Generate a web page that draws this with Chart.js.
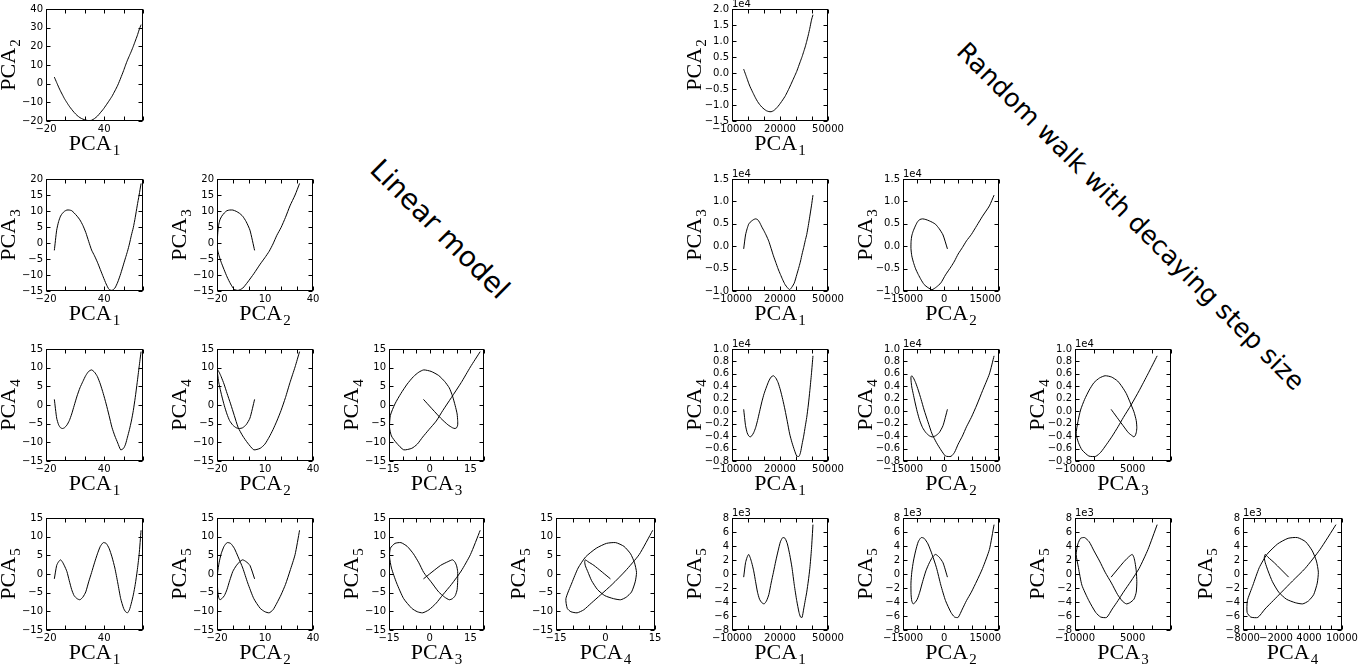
<!DOCTYPE html>
<html lang="en">
<head>
<meta charset="UTF-8">
<title>PCA projections of training trajectories</title>
<script src="https://cdn.jsdelivr.net/npm/chart.js"></script>
<style>
  body { margin: 0; background: #fff; }
  #fig { position: relative; width: 1358px; height: 666px; overflow: hidden; background: #fff; }
  #fig canvas { position: absolute; }
  .title {
    position: absolute;
    font-family: "DejaVu Sans", sans-serif;
    color: #000;
    white-space: nowrap;
    transform: translate(-50%, -50%) rotate(45deg);
  }
</style>
</head>
<body>
<div id="fig">
  <div class="title" style="left:440px; top:229px; font-size:28px;">Linear model</div>
  <div class="title" style="left:1131px; top:216px; font-size:25.5px;">Random walk with decaying step size</div>
</div>

<script>
    // trajectories projected on the first 5 principal components (same index = same step)
    const linPCA1 = [-11.4, -9, -7, -5, -3, -1, 1.5, 4, 6.5, 9, 12, 15, 18, 21, 24, 27, 30, 33, 36, 39,
                     42, 45, 48, 51, 54, 57, 60, 62, 64, 66, 68, 70, 72, 74, 76, 78];
    const linPCA2 = [3.5, 0.6, -1.8, -4, -6, -8, -10.1, -12.1, -13.8, -15.4, -17, -18.2, -19, -19.5, -19.8, -19.6, -18.7, -17.4, -15.6, -13.7,
                     -11.5, -9.2, -6.8, -3.9, -0.8, 3, 7, 9.9, 12.6, 15, 17.4, 20, 22.8, 25.6, 28.8, 31.6];
    const linPCA3 = [-2.3, 4, 6.7, 8.4, 9.3, 9.9, 10.3, 10.3, 10.1, 9.4, 8.4, 7.2, 5.5, 3.3, 0.5, -2.2, -4, -6, -8.3, -10.6,
                     -12.8, -14.5, -14.8, -14.1, -12.2, -9.6, -6.6, -4.6, -2.6, -0.3, 2.4, 4.8, 8, 11.6, 15, 18.6];
    const linPCA4 = [1.5, -3.5, -5.3, -6.1, -6.3, -6.1, -5.4, -4.2, -2.4, -0.2, 2.4, 4.6, 6.3, 7.9, 9, 9.4, 8.8, 7.6, 5.6, 3.1,
                     0.3, -2.8, -6, -8.3, -10.2, -12, -11.6, -10.5, -8.6, -6.6, -4.3, -1.5, 2, 6, 10.2, 14.3];
    const linPCA5 = [-1.3, 2.3, 3.3, 3.8, 3.2, 2.2, 0.7, -1.8, -4.2, -5.8, -6.6, -6.9, -6.2, -4.8, -2.1, 0.4, 3, 5.4, 7.4, 8.4,
                     8.2, 6.9, 4.6, 1.6, -2.4, -6.6, -9.2, -10.1, -10.4, -9.6, -7.8, -5.6, -2.8, 0.8, 5.2, 11.7];

    const rwPCA1 = [-2700, -1550, -550, 400, 1350, 2350, 3550, 4750, 5950, 7200, 8650, 10100, 11550, 13000, 14450, 15900, 17350, 18800, 20250, 21700,
                    23150, 24600, 26050, 27500, 28950, 30450, 31900, 32850, 33800, 34800, 35750, 36700, 37700, 38650, 39650, 40600];
    const rwPCA2 = [1200, -400, -1800, -3150, -4350, -5400, -6650, -7850, -8900, -9800, -10650, -11300, -11800, -12050, -12100, -11800, -11200, -10400, -9450, -8400,
                    -7300, -5900, -4400, -2800, -1200, 500, 2500, 3800, 5100, 6650, 8150, 9900, 11900, 14000, 16500, 18200];
    const rwPCA3 = [-600, 2500, 3900, 4900, 5350, 5650, 5950, 6100, 5950, 5350, 4300, 3350, 2300, 1100, -500, -2150, -3600, -5050, -6300, -7500,
                    -8550, -9250, -9700, -9100, -8200, -6400, -4600, -3300, -1750, -300, 1200, 2600, 4600, 6700, 9000, 11400];
    const rwPCA4 = [300, -2300, -3450, -3950, -4130, -3950, -3450, -2650, -1500, -100, 1500, 2850, 3900, 4850, 5500, 5700, 5350, 4600, 3400, 1900,
                    200, -1700, -3650, -5050, -6200, -7200, -7250, -6600, -5300, -4000, -2500, -1000, 1000, 3300, 6000, 8900];
    const rwPCA5 = [-450, 1600, 2400, 2800, 2350, 1600, 450, -1100, -2600, -3600, -4100, -4270, -3850, -2950, -1300, 250, 1850, 3300, 4600, 5200,
                    5100, 4300, 2800, 900, -1600, -3800, -5500, -6150, -6200, -5000, -3800, -2600, -1000, 800, 3500, 7050];

    // tick positions for each component axis
    const linTicks = [
        [-20, 0, 20, 40, 60, 80],
        [-20, -10, 0, 10, 20, 30, 40],
        [-15, -10, -5, 0, 5, 10, 15, 20],
        [-15, -10, -5, 0, 5, 10, 15],
        [-15, -10, -5, 0, 5, 10, 15]
    ];
    const rwTicks = [
        [-10000, 0, 10000, 20000, 30000, 40000, 50000],
        [-15000, -10000, -5000, 0, 5000, 10000, 15000, 20000],
        [-10000, -5000, 0, 5000, 10000, 15000],
        [-8000, -6000, -4000, -2000, 0, 2000, 4000, 6000, 8000, 10000],
        [-8000, -6000, -4000, -2000, 0, 2000, 4000, 6000, 8000]
    ];
    // exponent shown above the y axis ("1e4"), 0 = none
    const linExp = [0, 0, 0, 0, 0];
    const rwExp = [0, 4, 4, 4, 3];
    const componentNames = ['1', '2', '3', '4', '5'];

    const models = [
        { pcs: [linPCA1, linPCA2, linPCA3, linPCA4, linPCA5], ticks: linTicks, exp: linExp,
          colX: [46, 217, 389, 556], colW: [97, 96, 95, 99] },
        { pcs: [rwPCA1, rwPCA2, rwPCA3, rwPCA4, rwPCA5], ticks: rwTicks, exp: rwExp,
          colX: [732, 903, 1075, 1243], colW: [96, 96, 96, 99] }
    ];
    const rowY = [9, 179, 349, 518];
    const rowH = 112;
    const PAD = { l: 48, t: 14, r: 24, b: 44 };

    const minus = s => s.replace('-', '\u2212');

    // "PCA" with a subscript index, centred on the origin, baseline at y = 0
    const drawPCA = (ctx, n) => {
        ctx.font = '22px "Liberation Serif"';
        const w1 = ctx.measureText('PCA').width;
        ctx.font = '15px "Liberation Serif"';
        const w2 = ctx.measureText(n).width;
        const x0 = -(w1 + w2 + 1) / 2;
        ctx.font = '22px "Liberation Serif"';
        ctx.fillText('PCA', x0, 0);
        ctx.font = '15px "Liberation Serif"';
        ctx.fillText(n, x0 + w1 + 1, 5);
    };

    // box, inward ticks on all sides, axis titles and offset text
    const pcaFrame = {
        id: 'pcaFrame',
        afterDraw(chart, args, opts) {
            const ctx = chart.ctx;
            const a = chart.chartArea;
            const xs = chart.scales.x, ys = chart.scales.y;
            const L = Math.round(a.left) + 0.5, R = Math.round(a.right) - 0.5;
            const T = Math.round(a.top) + 0.5, B = Math.round(a.bottom) - 0.5;
            ctx.save();
            ctx.strokeStyle = '#000';
            ctx.lineWidth = 1;
            ctx.strokeRect(L, T, R - L, B - T);
            ctx.beginPath();
            xs.ticks.forEach(t => {
                const px = Math.round(xs.getPixelForValue(t.value)) + 0.5;
                ctx.moveTo(px, B); ctx.lineTo(px, B - 4);
                ctx.moveTo(px, T); ctx.lineTo(px, T + 4);
            });
            ys.ticks.forEach(t => {
                const py = Math.round(ys.getPixelForValue(t.value)) + 0.5;
                ctx.moveTo(L, py); ctx.lineTo(L + 4, py);
                ctx.moveTo(R, py); ctx.lineTo(R - 4, py);
            });
            ctx.stroke();

            ctx.fillStyle = '#000';
            ctx.textAlign = 'left';
            ctx.textBaseline = 'alphabetic';
            ctx.save();
            ctx.translate((a.left + a.right) / 2, a.bottom + 29);
            drawPCA(ctx, componentNames[opts.xc]);
            ctx.restore();
            ctx.save();
            ctx.translate(a.left - 31, (a.top + a.bottom) / 2);
            ctx.rotate(-Math.PI / 2);
            drawPCA(ctx, componentNames[opts.yc]);
            ctx.restore();

            if (opts.exp) {
                ctx.font = '10px "DejaVu Sans"';
                ctx.fillText('1e' + opts.exp, a.left, a.top - 2.5);
            }
            ctx.restore();
        }
    };

    const fig = document.getElementById('fig');

    const makePanel = (m, row, col) => {
        const xc = col, yc = row + 1;
        const xTicks = m.ticks[xc], yTicks = m.ticks[yc];
        const yExp = m.exp[yc];
        const points = m.pcs[xc].map((v, i) => ({ x: v, y: m.pcs[yc][i] }));

        const canvas = document.createElement('canvas');
        canvas.width = m.colW[col] + PAD.l + PAD.r;
        canvas.height = rowH + PAD.t + PAD.b;
        canvas.style.left = (m.colX[col] - PAD.l) + 'px';
        canvas.style.top = (rowY[row] - PAD.t) + 'px';
        fig.appendChild(canvas);

        const tickFont = { family: 'DejaVu Sans', size: 10 };
        new Chart(canvas, {
            type: 'scatter',
            data: {
                datasets: [{
                    data: points,
                    showLine: true,
                    pointRadius: 0,
                    borderColor: '#000',
                    borderWidth: 1,
                    tension: 0.2
                }]
            },
            options: {
                responsive: false,
                animation: false,
                events: [],
                layout: { padding: { left: 0, top: PAD.t, right: PAD.r, bottom: 0 } },
                plugins: {
                    legend: { display: false },
                    tooltip: { enabled: false },
                    pcaFrame: { xc: xc, yc: yc, exp: yExp }
                },
                scales: {
                    x: {
                        type: 'linear',
                        min: xTicks[0],
                        max: xTicks[xTicks.length - 1],
                        afterBuildTicks: s => { s.ticks = xTicks.map(v => ({ value: v })); },
                        afterFit: s => { s.height = PAD.b; },
                        grid: { display: false, drawTicks: false },
                        border: { display: false },
                        ticks: {
                            autoSkip: false, maxRotation: 0, padding: 2,
                            color: '#000', font: tickFont,
                            callback: (v, i) => (i % 3 === 0 ? minus(String(v)) : '')
                        }
                    },
                    y: {
                        type: 'linear',
                        min: yTicks[0],
                        max: yTicks[yTicks.length - 1],
                        afterBuildTicks: s => { s.ticks = yTicks.map(v => ({ value: v })); },
                        afterFit: s => { s.width = PAD.l; },
                        grid: { display: false, drawTicks: false },
                        border: { display: false },
                        ticks: {
                            autoSkip: false, padding: 3,
                            color: '#000', font: tickFont,
                            callback: v => minus(yExp ? (v / Math.pow(10, yExp)).toFixed(yExp === 4 ? 1 : 0) : String(v))
                        }
                    }
                }
            },
            plugins: [pcaFrame]
        });
    };

    models.forEach(m => {
        for (let row = 0; row < 4; row++) {
            for (let col = 0; col <= row; col++) {
                makePanel(m, row, col);
            }
        }
    });
</script>
</body>
</html>
